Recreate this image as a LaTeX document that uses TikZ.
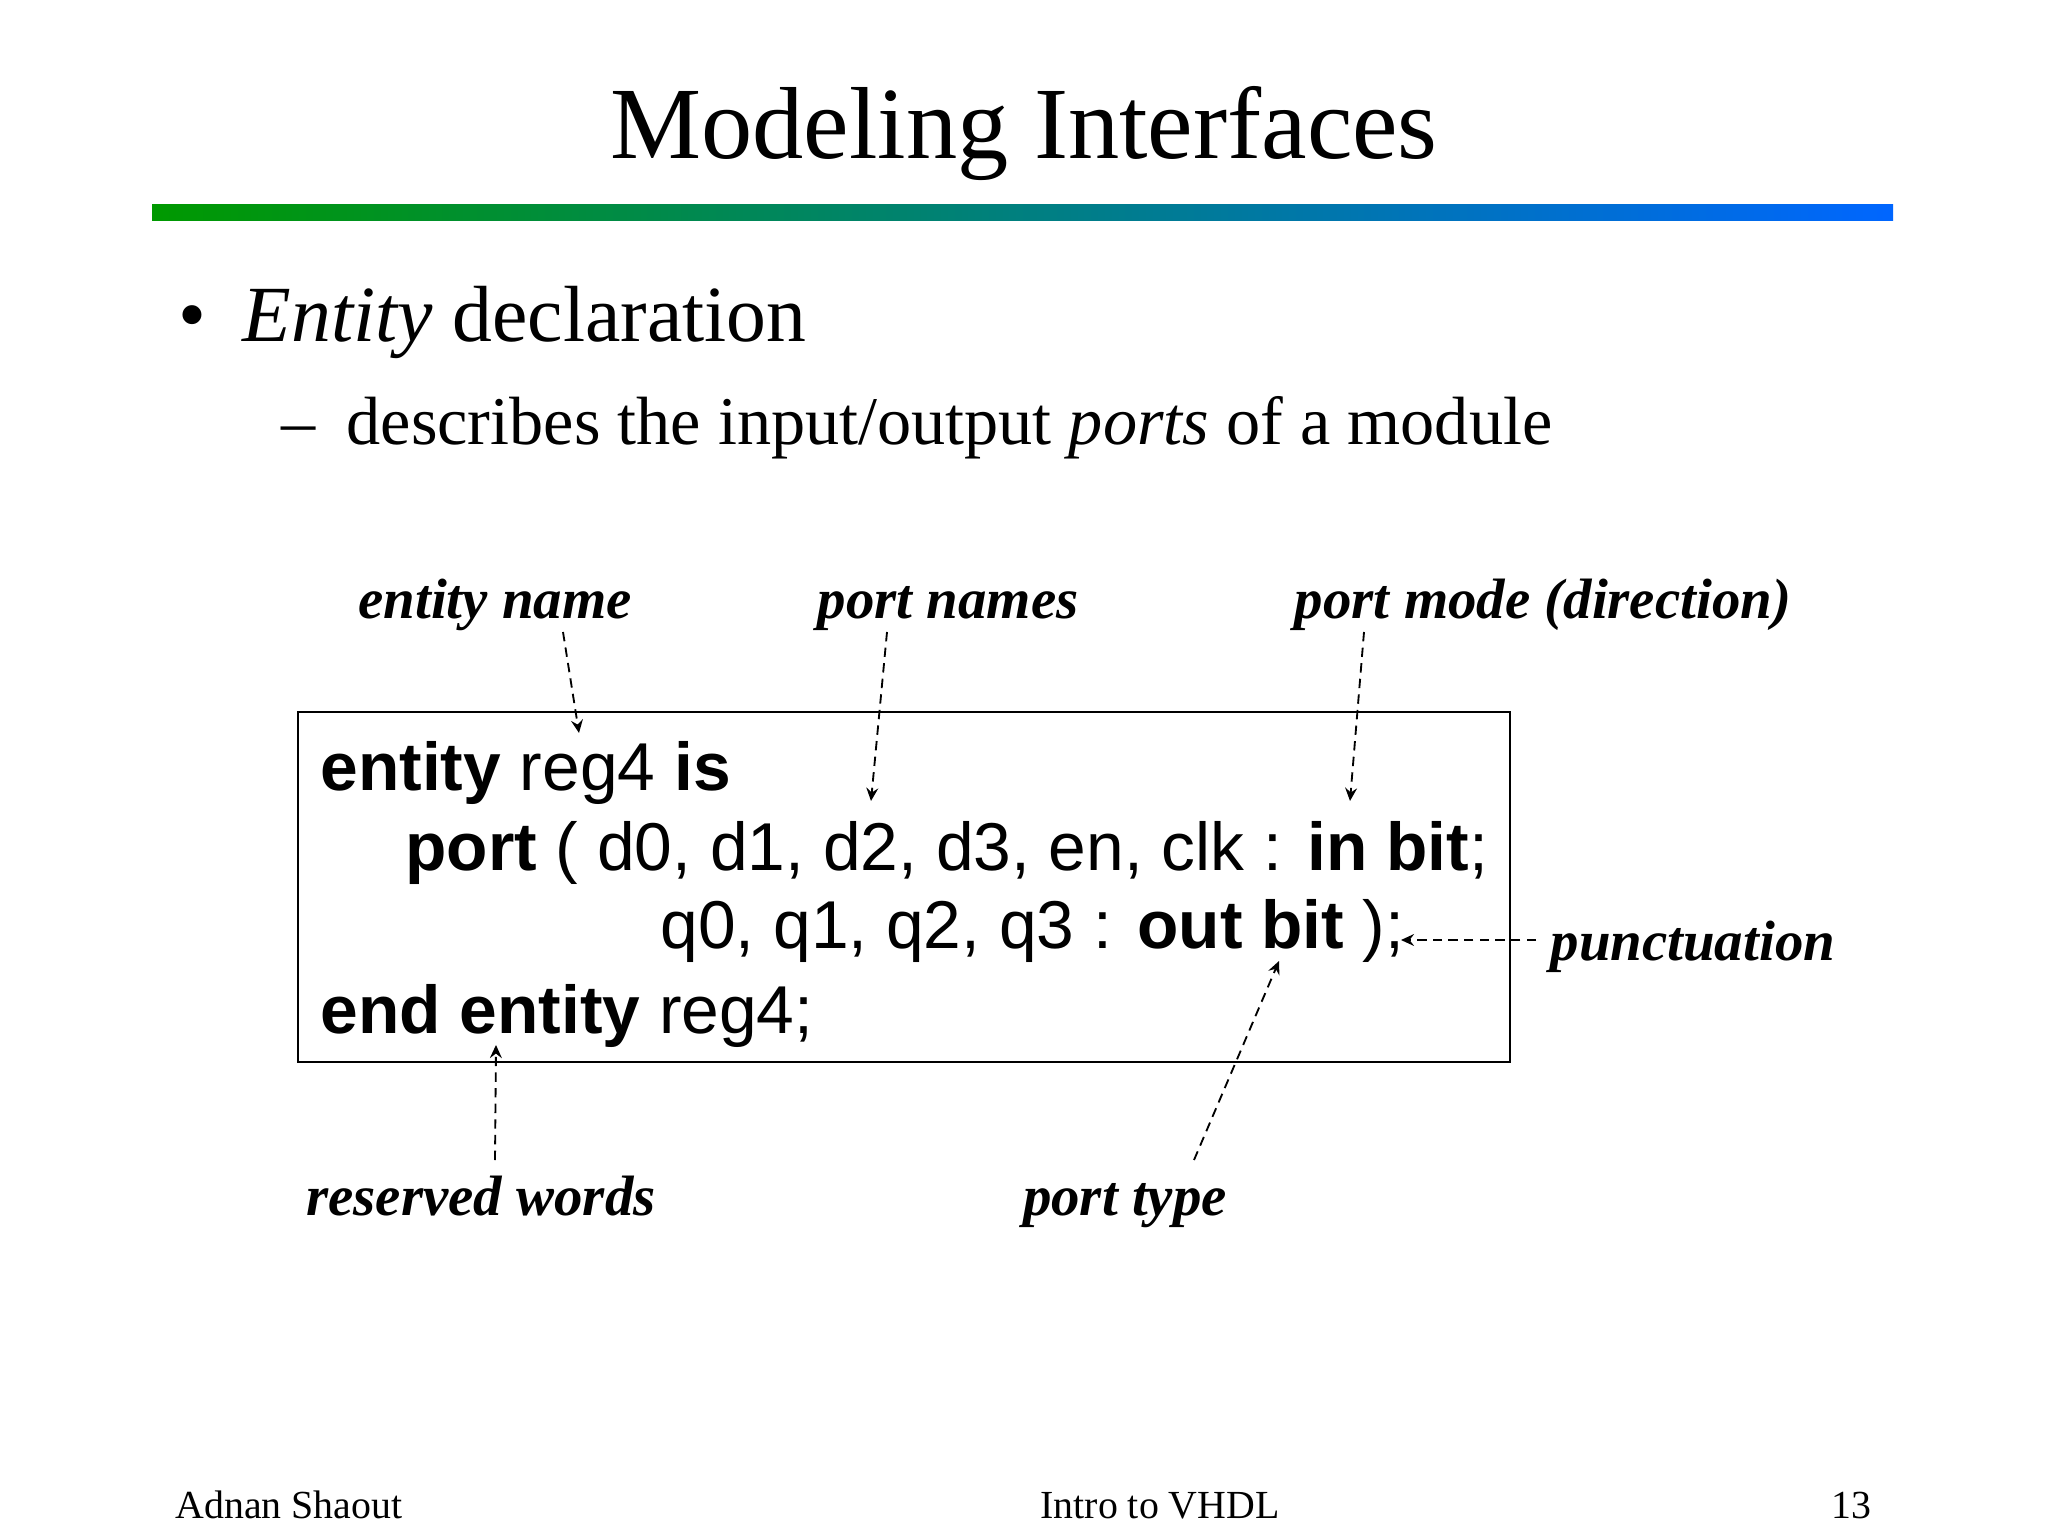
\documentclass[tikz,border=0pt]{standalone}
\usepackage{fontspec}
\setmainfont{Liberation Serif}
\newfontfamily\codefont{Liberation Sans}
\usetikzlibrary{arrows.meta}
\definecolor{barL}{RGB}{0,153,0}
\definecolor{barR}{RGB}{0,102,255}
\tikzset{
  px/.style={x=0.3515625pt,y=-0.3515625pt},
  codeline/.style={anchor=base west,inner sep=0pt,font=\codefont\fontsize{23.8}{28}\selectfont},
  lbl/.style={inner sep=0pt,font=\fontsize{20}{24}\selectfont\bfseries\itshape},
  note/.style={dash pattern=on 3.3pt off 2.2pt,line width=0.65pt,-{Stealth[length=4.6pt,width=4.2pt,inset=1.6pt]}},
  foot/.style={anchor=base,inner sep=0pt,font=\fontsize{14}{16}\selectfont},
}
\begin{document}
\begin{tikzpicture}[px]
\useasboundingbox[fill=white] (0,0) rectangle (2048,1536);
% title
\node[anchor=base,inner sep=0pt,font=\fontsize{36}{40}\selectfont] (title) at (1024,159) {Modeling Interfaces};
\shade[left color=barL,right color=barR] (152,205) rectangle (1893,221);
% bullets
\node[anchor=base,inner sep=0pt,font=\fontsize{28}{32}\selectfont] (b1) at (192,342) {•};
\node[anchor=base west,inner sep=0pt,font=\fontsize{28}{32}\selectfont] (t1) at (242,342) {\textit{Entity} declaration};
\node[anchor=base west,inner sep=0pt,font=\fontsize{24}{28}\selectfont] (b2) at (281,445) {–};
\node[anchor=base west,inner sep=0pt,font=\fontsize{24}{28}\selectfont] (t2) at (346,445) {describes the input/output \textit{ports} of a module};
% code box
\draw[line width=0.75pt] (298,712) rectangle (1510,1062);
\node[codeline] (c1) at (320,790) {\textbf{entity} reg4 \textbf{is}};
\node[codeline] (c2) at (405,870) {\textbf{port} ( d0, d1, d2, d3, en, clk : \textbf{in bit};};
\node[codeline] (c3) at (660,948) {q0, q1, q2, q3 : \textbf{out bit} );};
\node[codeline] (c4) at (320,1033) {\textbf{end entity} reg4;};
% labels
\node[lbl,anchor=base] (l1) at (495,618) {entity name};
\node[lbl,anchor=base] (l2) at (948,618) {port names};
\node[lbl,anchor=base] (l3) at (1543,618) {port mode (direction)};
\node[lbl,anchor=base west] (l4) at (1550,960) {punctuation};
\node[lbl,anchor=base] (l5) at (481,1215) {reserved words};
\node[lbl,anchor=base] (l6) at (1125,1215) {port type};
% arrow ends
\coordinate (a1s) at (563,632); \coordinate (a1e) at (579,733);
\coordinate (a2s) at (887,632); \coordinate (a2e) at (871,801);
\coordinate (a3s) at (1364,632); \coordinate (a3e) at (1350,801);
\coordinate (a4s) at (1536,940); \coordinate (a4e) at (1401,940);
\coordinate (a5s) at (495,1160); \coordinate (a5e) at (496,1045);
\coordinate (a6s) at (1194,1160); \coordinate (a6e) at (1279,961);
\draw[note] (a1s) -- (a1e);
\draw[note] (a2s) -- (a2e);
\draw[note] (a3s) -- (a3e);
\draw[note] (a4s) -- (a4e);
\draw[note] (a5s) -- (a5e);
\draw[note] (a6s) -- (a6e);
% footer
\node[foot,anchor=base west] (f1) at (175,1518) {Adnan Shaout};
\node[foot] (f2) at (1160,1518) {Intro to VHDL};
\node[foot,anchor=base east] (f3) at (1872,1518) {13};
\end{tikzpicture}
\end{document}
